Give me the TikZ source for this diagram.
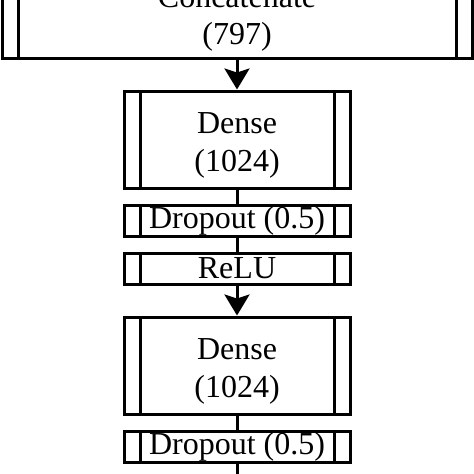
\documentclass[tikz,border=0pt]{standalone}
\usepackage{fontspec}
\setmainfont{Liberation Serif}
\usetikzlibrary{positioning,arrows.meta}
\tikzset{>={Stealth[length=21pt,width=25pt,inset=4pt]}}
\tikzset{ layer/.style={draw, line width=3pt, minimum width=226pt, minimum height=97pt, inner sep=0pt, align=center, text height=70pt, font=\fontsize{32}{37.5}\selectfont,
  path picture={\draw[line width=3pt] ([xshift=16pt]path picture bounding box.north west) -- ([xshift=16pt]path picture bounding box.south west);
    \draw[line width=3pt] ([xshift=-16pt]path picture bounding box.north east) -- ([xshift=-16pt]path picture bounding box.south east);}},
  thinlayer/.style={layer, minimum height=31pt, text height=}}

\begin{document}
\begin{tikzpicture}[x=1pt,y=-1pt,node distance=14pt]
  \useasboundingbox (0,0) rectangle (474,474);
  \node[layer,minimum width=470pt,text height=77pt] (concat) at (237,9.5) {Concatenate\\(797)};
  \node[layer,below=30pt of concat] (dense1) {Dense\\(1024)};
  \node[thinlayer,below=of dense1] (drop1) {Dropout (0.5)};
  \node[thinlayer,below=of drop1] (relu) {ReLU};
  \node[layer,below=30pt of relu] (dense2) {Dense\\(1024)};
  \node[thinlayer,below=of dense2] (drop2) {Dropout (0.5)};
  \coordinate (out) at (237,490);
  \draw[->,line width=3pt] (concat) -- (dense1);
  \draw[line width=3pt] (dense1) -- (drop1);
  \draw[line width=3pt] (drop1) -- (relu);
  \draw[->,line width=3pt] (relu) -- (dense2);
  \draw[line width=3pt] (dense2) -- (drop2);
  \draw[line width=3pt] (drop2) -- (out);
\end{tikzpicture}
\end{document}
